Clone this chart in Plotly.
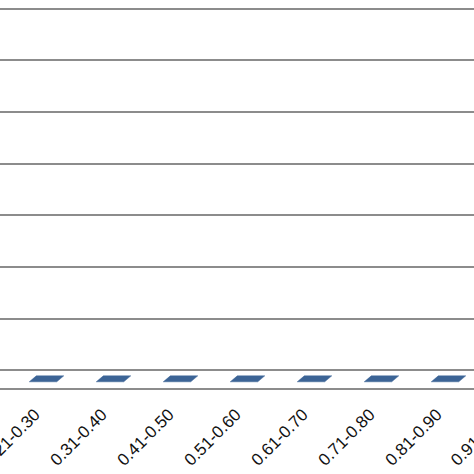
import plotly.graph_objects as go

# 区間ごとのカテゴリとその値（見えている範囲はすべてほぼ 0）
categories = ["0.21-0.30", "0.31-0.40", "0.41-0.50", "0.51-0.60",
              "0.61-0.70", "0.71-0.80", "0.81-0.90", "0.91-1.00"]
values = [0, 0, 0, 0, 0, 0, 0, 0]

bar_color = "#3c6496"
grid_color = "#8c8c8c"
font_family = "Liberation Sans, Arial, sans-serif"
label_size = 17

# 3D風の棒の上面（平行四辺形）: 幅・奥行き・せん断はスタイル定数
half_w = 0.205
shear = 0.105
front_off = -0.22
back_off = -0.105

xs, ys = [], []
for i, v in enumerate(values):
    xs += [i - half_w, i + half_w, i + half_w + shear, i - half_w + shear, i - half_w, None]
    ys += [v + front_off, v + front_off, v + back_off, v + back_off, v + front_off, None]

fig = go.Figure()
fig.add_trace(go.Scatter(
    x=xs, y=ys, mode="lines", fill="toself",
    fillcolor=bar_color, line=dict(color=bar_color, width=0.5),
    hoverinfo="skip", showlegend=False,
))

x_range = [-0.642, 6.433]
fig.update_layout(
    width=474, height=474,
    margin=dict(l=0, r=0, t=0, b=86),
    paper_bgcolor="white", plot_bgcolor="white",
    font=dict(family=font_family, size=label_size, color="#111111"),
    showlegend=False,
)
fig.update_xaxes(
    range=x_range,
    tickmode="array",
    tickvals=list(range(len(categories))),
    ticktext=categories,
    tickangle=-45,
    ticklabeloverflow="allow",
    ticklabelshift=-8,
    ticklabelstandoff=8,
    automargin=False,
    showgrid=False, zeroline=False,
    showline=True, linecolor=grid_color, linewidth=2,
    ticks="", fixedrange=True,
)
fig.update_yaxes(
    range=[-0.34, 7.17],
    dtick=1, tick0=0,
    showgrid=True, gridcolor=grid_color, gridwidth=2,
    zeroline=False, showticklabels=False, showline=False,
    automargin=False, fixedrange=True,
)

# 範囲外で切れている最後のラベル
last = len(categories) - 1
fig.add_annotation(
    x=(last - x_range[0]) / (x_range[1] - x_range[0]), y=0,
    xref="paper", yref="paper",
    text=categories[last], textangle=-45, showarrow=False,
    xanchor="right", yanchor="top", xshift=2, yshift=-14,
    font=dict(family=font_family, size=label_size, color="#111111"),
)

fig.write_html("out.html", config={"displayModeBar": False},
               post_script="document.body.style.margin='0';")
